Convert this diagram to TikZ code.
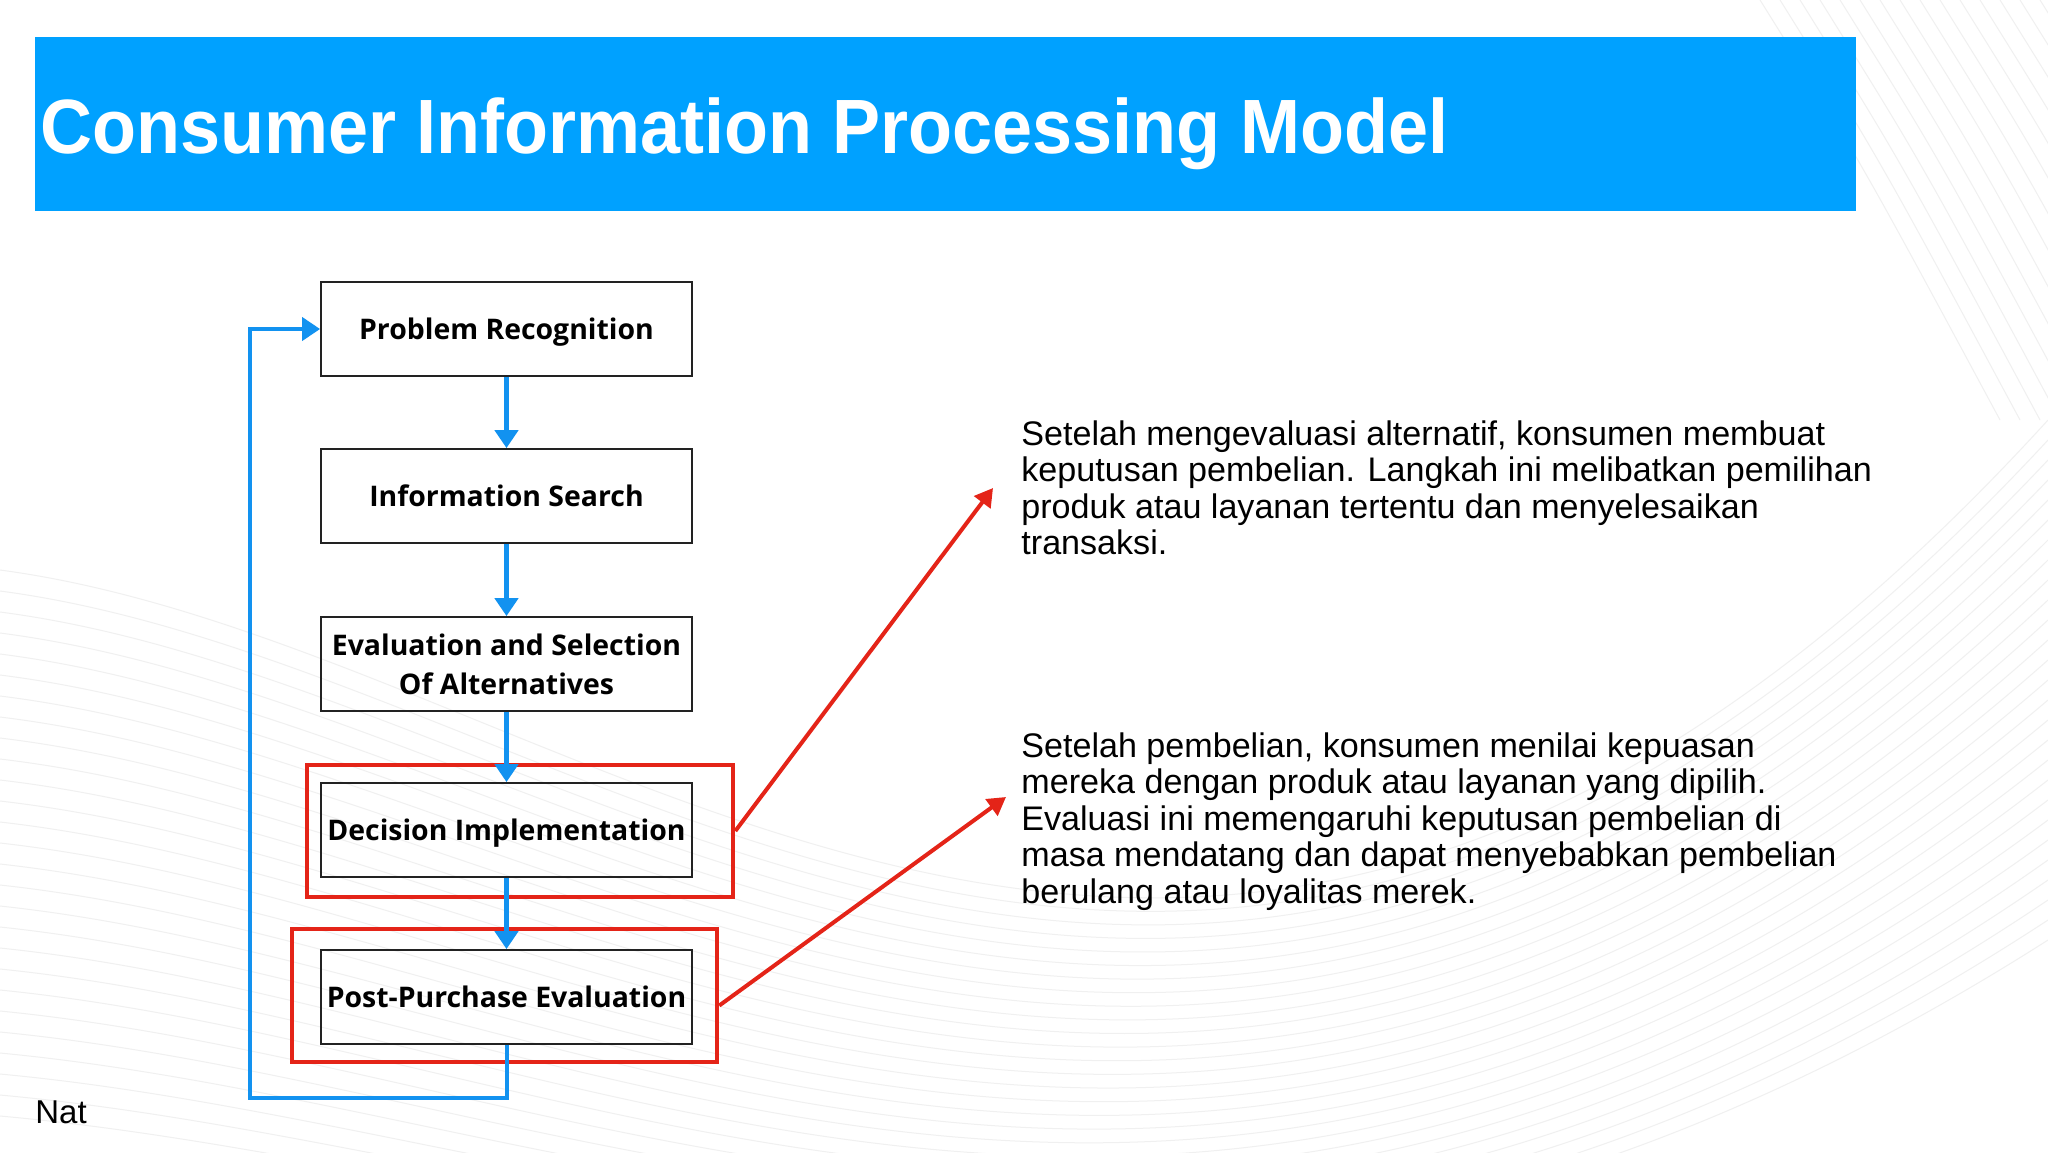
\documentclass[tikz,border=0pt]{standalone}
\usepackage{fontspec}
\setmainfont{Liberation Sans}
\newfontfamily\titlefont[FakeStretch=0.935]{Liberation Sans}
\newfontfamily\boxfont{Open Sans}
\usetikzlibrary{arrows.meta,positioning}
\definecolor{barblue}{RGB}{0,161,255}
\definecolor{flowblue}{RGB}{18,146,240}
\definecolor{markred}{RGB}{228,36,24}
\definecolor{boxline}{RGB}{34,34,34}

\begin{document}
\begin{tikzpicture}[x=0.5pt,y=-0.5pt,
  stage/.style={draw=boxline,line width=0.9pt,minimum width=185.5pt,minimum height=47pt,inner sep=0pt,align=center,font=\boxfont\bfseries\fontsize{14.2}{19.5}\selectfont},
  oneline/.style={text height=10.2pt,text depth=0pt},
  flow/.style={flowblue,line width=2.5pt,-{Triangle[width=11.5pt,length=9pt]}},
  loopline/.style={flowblue,line width=2pt,-{Triangle[width=11.5pt,length=9pt]}},
  hilite/.style={draw=markred,line width=2.3pt,inner sep=0pt},
  pointer/.style={markred,line width=2pt,-{Triangle[width=10pt,length=9pt]}},
  para/.style={anchor=north west,align=left,inner sep=0pt,font=\fontsize{17.05}{18.3}\selectfont},
  waveline/.style={black!6,line width=0.5pt}]
\useasboundingbox (0,0) rectangle (2048,1152);
\fill[white] (0,0) rectangle (2048,1152);
% faint background waves
\begin{scope}
\clip (0,0) rectangle (2048,1152);
\foreach \i in {0,...,26}
  \draw[waveline] (0,{570+21*\i}) .. controls (600,{650+20*\i}) and (1200,{1350+5*\i}) .. (2048,{420+20*\i});
\foreach \i in {0,...,14}
  \draw[waveline] ({1760+20*\i},0) .. controls ({1860+20*\i},160) .. ({2000+20*\i},420);
\end{scope}
% title bar
\fill[barblue] (35,37) rectangle (1856,211);
\node[anchor=base west,inner sep=0pt,text=white,font=\titlefont\bfseries\fontsize{38.5}{40}\selectfont] (title) at (40,153) {Consumer Information Processing Model};
% stages
\node[stage,oneline] (pr) at (506.5,329) {Problem Recognition};
\node[stage,oneline] (is) at (506.5,496) {Information Search};
\node[stage] (es) at (506.5,664) {Evaluation and Selection\\Of Alternatives};
\node[stage,oneline] (di) at (506.5,830) {Decision Implementation};
\node[stage,oneline] (ppe) at (506.5,997) {Post-Purchase Evaluation};
% highlighted stages
\node[hilite,minimum width=213pt,minimum height=66pt] (hlDI) at (520,831) {};
\node[hilite,minimum width=212.5pt,minimum height=66.5pt] (hlPPE) at (504.5,995.5) {};
% flow
\draw[flow] (pr) -- (is);
\draw[flow] (is) -- (es);
\draw[flow] (es.south) -- (di.north);
\draw[flow] (di) -- (ppe);
\coordinate (loopBL) at (250,1098);
\draw[loopline] (ppe.south) |- (loopBL) |- (pr.west);
% explanations
\coordinate (tipA) at (993,488);
\coordinate (tipB) at (1006,797);
\draw[pointer] (hlDI.east) -- (tipA);
\draw[pointer] ([yshift=-5pt]hlPPE.east) -- (tipB);
\node[para] (txtDI) at (1021,420) {Setelah mengevaluasi alternatif, konsumen membuat\\keputusan pembelian. Langkah ini melibatkan pemilihan\\produk atau layanan tertentu dan menyelesaikan\\transaksi.};
\node[para] (txtPPE) at (1021,732) {Setelah pembelian, konsumen menilai kepuasan\\mereka dengan produk atau layanan yang dipilih.\\Evaluasi ini memengaruhi keputusan pembelian di\\masa mendatang dan dapat menyebabkan pembelian\\berulang atau loyalitas merek.};
\node[anchor=base west,inner sep=0pt,font=\fontsize{16.5}{18}\selectfont] (sig) at (35,1123) {Nat};
\end{tikzpicture}
\end{document}
